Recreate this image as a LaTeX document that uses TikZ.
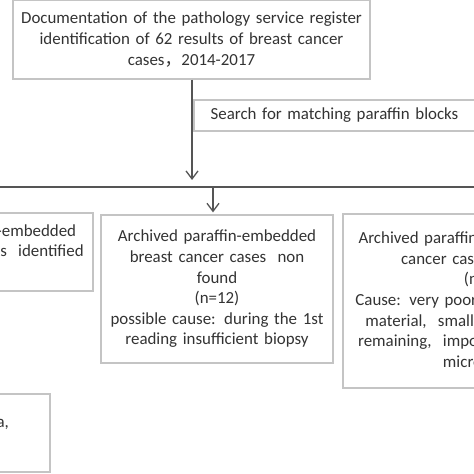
\documentclass[tikz,border=0pt]{standalone}
\usepackage{fontspec}
\setmainfont{Carlito}
\newfontfamily\cjk{Noto Sans CJK SC}
\usetikzlibrary{arrows.meta}
\definecolor{txt}{HTML}{333333}
\definecolor{bord}{HTML}{C4C4C4}
\definecolor{conn}{HTML}{555555}
\tikzset{
  boxnode/.style={draw=bord, line width=1.3bp, fill=white, text=txt, align=center, inner sep=0pt,
    font=\fontsize{16.9bp}{20.6bp}\selectfont},
  connline/.style={draw=conn, line width=1.3bp},
  arrowline/.style={connline, -{Straight Barb[length=8bp,width=12bp]}}
}
\begin{document}
\begin{tikzpicture}[x=1bp,y=-1bp]
\useasboundingbox (0,0) rectangle (474,474);
\fill[white] (0,0) rectangle (474,474);
\clip (0,0) rectangle (474,474);

\node[boxnode, text width=357bp, minimum height=79bp] (top) at (191.5,39.5)
  {Documentation of the pathology service register\\identification of 62 results of breast cancer\\cases{\cjk ，}2014-2017};
\node[boxnode, text width=281bp, minimum height=31bp] (search) at (334.5,115.5)
  {Search for matching paraffin blocks};
\node[boxnode, text width=232bp, minimum height=78bp] (left) at (-23,252)
  {Archived paraffin-embedded\\breast cancer cases\ \ identified\\(n=44)};
\node[boxnode, text width=232bp, minimum height=148bp] (mid) at (217,289)
  {Archived paraffin-embedded\\breast cancer cases\ \ non\\found\\(n=12)\\possible cause: during the 1st\\reading insufficient biopsy};
\node[boxnode, text width=278bp, minimum height=174bp] (right) at (482,301)
  {Archived paraffin-embedded breast\\cancer cases\ \ unusable\\(n=6)\\Cause: very poorly preserved tissue\\material,\ \ small amount of tissue\\remaining,\ \ impossible for the light\\microscopy};
\node[boxnode, text width=266bp, minimum height=78bp] (botleft) at (-83,433)
  {Invasive ductal carcinoma,\\(n=44)\\};

\coordinate (j1) at (192,180);
\coordinate (hl) at (-5,187);
\coordinate (hr) at (480,187);
\coordinate (m1) at (213,187);

\draw[arrowline] (top.south -| j1) -- (j1);
\draw[connline] (hl) -- (hr);
\draw[arrowline, shorten >=2bp] (m1) -- (m1 |- mid.north);
\end{tikzpicture}
\end{document}
